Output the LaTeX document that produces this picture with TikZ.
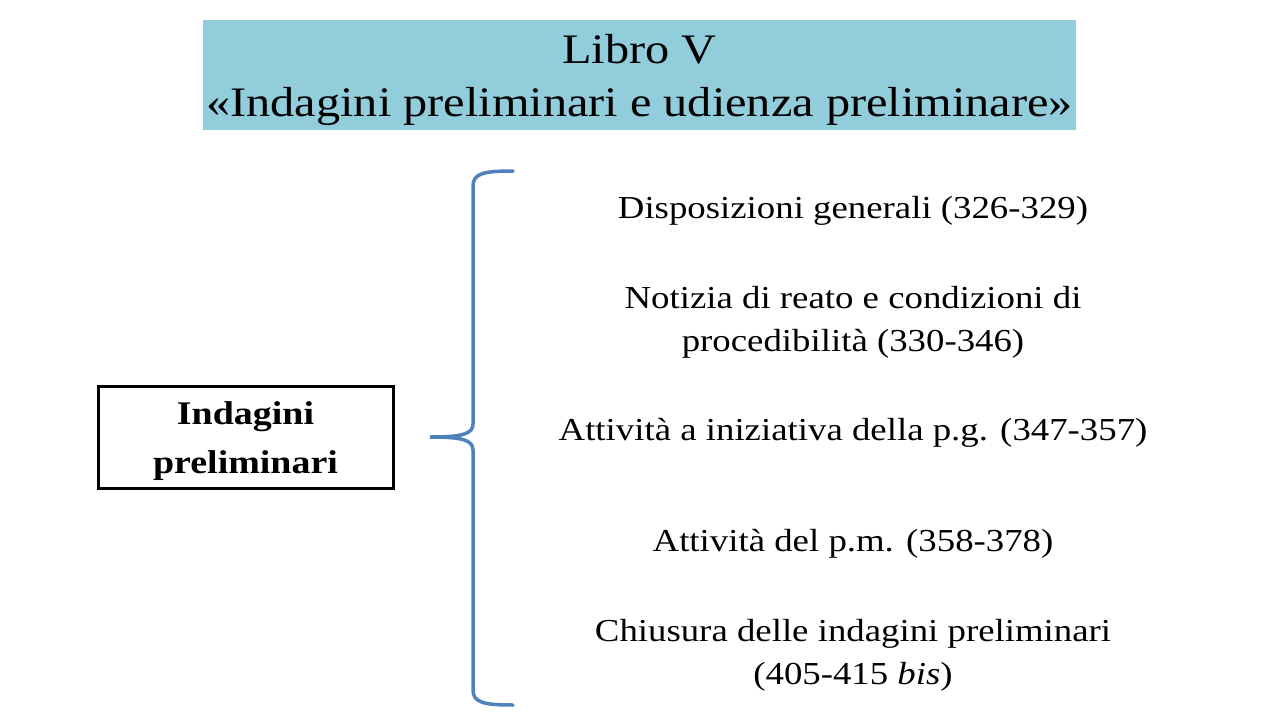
\documentclass[tikz,border=0pt]{standalone}
\usepackage{fontspec}
\setmainfont{Liberation Serif}[FakeStretch=1.15]
\usepackage{tikz}
\usetikzlibrary{positioning}
\usepackage{xcolor}
\definecolor{titolo}{RGB}{146,205,220}
\definecolor{graffa}{RGB}{79,129,189}

\begin{document}
\begin{tikzpicture}[
            x = 1pt, y = -1pt, % pixel units, y down
            node distance = 111pt, % distance between items
            title/.style = {fill = titolo, minimum width = 873pt, minimum height = 110pt},
            titletext/.style = {align = center, font = \fontsize{42}{53}\selectfont},
            box/.style = {draw = black, line width = 3pt, minimum width = 295pt, minimum height = 102pt},
            boxtext/.style = {align = center, font = \fontsize{33}{49}\selectfont\bfseries},
            item/.style = {align = center, font = \fontsize{32}{43}\selectfont},
            brace/.style = {draw = graffa, line width = 3.5pt, line cap = round}
        ]

        \useasboundingbox (0,0) rectangle (1280,720);

        % Titolo
        \node[title] (libro) at (639.5,75) {};
        \node[titletext] (librotxt) at ([yshift=-5pt]libro.center)
            {Libro V\\«Indagini preliminari e udienza preliminare»};

        % Riquadro a sinistra
        \node[box] (indagini) at (245.5,437) {};
        \node[boxtext] (indaginitxt) at ([yshift=-4pt]indagini.center) {Indagini\\preliminari};

        % Graffa
        \draw[brace] (513,171) .. controls (485,171) and (473,173) .. (473,186)
            -- (473,424) .. controls (473,434) and (462,437) .. (430,437)
            .. controls (462,437) and (473,440) .. (473,450)
            -- (473,690) .. controls (473,703) and (485,705) .. (513,705);

        % Voci
        \node[item] (disp) at (853,211) {Disposizioni generali (326-329)};
        \node[item] (notizia) [below of=disp] {Notizia di reato e condizioni di\\procedibilità (330-346)};
        \node[item] (pg) [below of=notizia] {Attività a iniziativa della p.g. (347-357)};
        \node[item] (pm) [below of=pg] {Attività del p.m. (358-378)};
        \node[item] (chiusura) [below of=pm] {Chiusura delle indagini preliminari\\(405-415 \textit{bis})};

\end{tikzpicture}
\end{document}
